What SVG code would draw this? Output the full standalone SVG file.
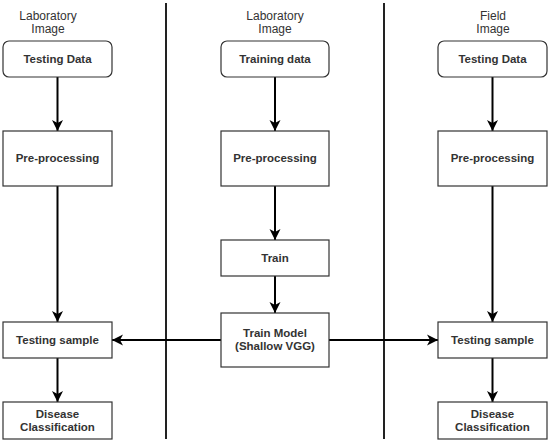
<svg xmlns="http://www.w3.org/2000/svg" width="550" height="443" viewBox="0 0 550 443">
<style>
.box{fill:#fff;stroke:#333;stroke-width:1.2}
.t{font-family:"Liberation Sans",Arial,sans-serif;font-size:11.5px;font-weight:bold;fill:#333;text-anchor:middle}
.h{font-family:"Liberation Sans",Arial,sans-serif;font-size:12px;fill:#333;text-anchor:middle}
.c{stroke:#000;stroke-width:2;fill:none;marker-end:url(#ah)}
.sep{stroke:#222;stroke-width:2}
</style>
<defs>
<marker id="ah" markerUnits="userSpaceOnUse" markerWidth="12" markerHeight="12" viewBox="0 0 12 12" refX="11" refY="6" orient="auto">
<path d="M0,0.5 L11,6 L0,11.5 L3,6 Z" fill="#000"/>
</marker>
</defs>
<rect width="550" height="443" fill="#fff"/>
<g id="separators">
<line class="sep" x1="166" y1="3" x2="166" y2="439"/>
<line class="sep" x1="384" y1="3" x2="384" y2="439"/>
</g>
<g id="headers">
<text class="h" x="48" y="20">Laboratory</text>
<text class="h" x="48" y="33">Image</text>
<text class="h" x="275" y="20">Laboratory</text>
<text class="h" x="275" y="33">Image</text>
<text class="h" x="493" y="20">Field</text>
<text class="h" x="493" y="33">Image</text>
</g>
<g id="connectors">
<line class="c" x1="57.5" y1="77" x2="57.5" y2="131"/>
<line class="c" x1="57.5" y1="186" x2="57.5" y2="322"/>
<line class="c" x1="57.5" y1="358" x2="57.5" y2="402"/>
<line class="c" x1="275" y1="77" x2="275" y2="131"/>
<line class="c" x1="275" y1="186" x2="275" y2="240"/>
<line class="c" x1="275" y1="276" x2="275" y2="313"/>
<line class="c" x1="221" y1="340" x2="112" y2="340"/>
<line class="c" x1="329" y1="340" x2="438" y2="340"/>
<line class="c" x1="492.5" y1="77" x2="492.5" y2="131"/>
<line class="c" x1="492.5" y1="186" x2="492.5" y2="322"/>
<line class="c" x1="492.5" y1="358" x2="492.5" y2="402"/>
</g>
<g id="l-testing-data"><rect class="box" x="3" y="41" width="109" height="36" rx="6"/><text class="t" x="57.5" y="63">Testing Data</text></g>
<g id="l-preprocessing"><rect class="box" x="3" y="131" width="109" height="55"/><text class="t" x="57.5" y="162">Pre-processing</text></g>
<g id="l-testing-sample"><rect class="box" x="3" y="322" width="109" height="36"/><text class="t" x="57.5" y="344">Testing sample</text></g>
<g id="l-disease"><rect class="box" x="3" y="402" width="109" height="37"/><text class="t" x="57.5" y="418">Disease</text><text class="t" x="57.5" y="431">Classification</text></g>
<g id="m-training-data"><rect class="box" x="221" y="41" width="108" height="36" rx="6"/><text class="t" x="275" y="63">Training data</text></g>
<g id="m-preprocessing"><rect class="box" x="221" y="131" width="108" height="55"/><text class="t" x="275" y="162">Pre-processing</text></g>
<g id="m-train"><rect class="box" x="221" y="240" width="108" height="36"/><text class="t" x="275" y="262">Train</text></g>
<g id="m-train-model"><rect class="box" x="221" y="313" width="108" height="54"/><text class="t" x="275" y="337">Train Model</text><text class="t" x="275" y="350">(Shallow VGG)</text></g>
<g id="r-testing-data"><rect class="box" x="438" y="41" width="109" height="36" rx="6"/><text class="t" x="492.5" y="63">Testing Data</text></g>
<g id="r-preprocessing"><rect class="box" x="438" y="131" width="109" height="55"/><text class="t" x="492.5" y="162">Pre-processing</text></g>
<g id="r-testing-sample"><rect class="box" x="438" y="322" width="109" height="36"/><text class="t" x="492.5" y="344">Testing sample</text></g>
<g id="r-disease"><rect class="box" x="438" y="402" width="109" height="37"/><text class="t" x="492.5" y="418">Disease</text><text class="t" x="492.5" y="431">Classification</text></g>
</svg>
